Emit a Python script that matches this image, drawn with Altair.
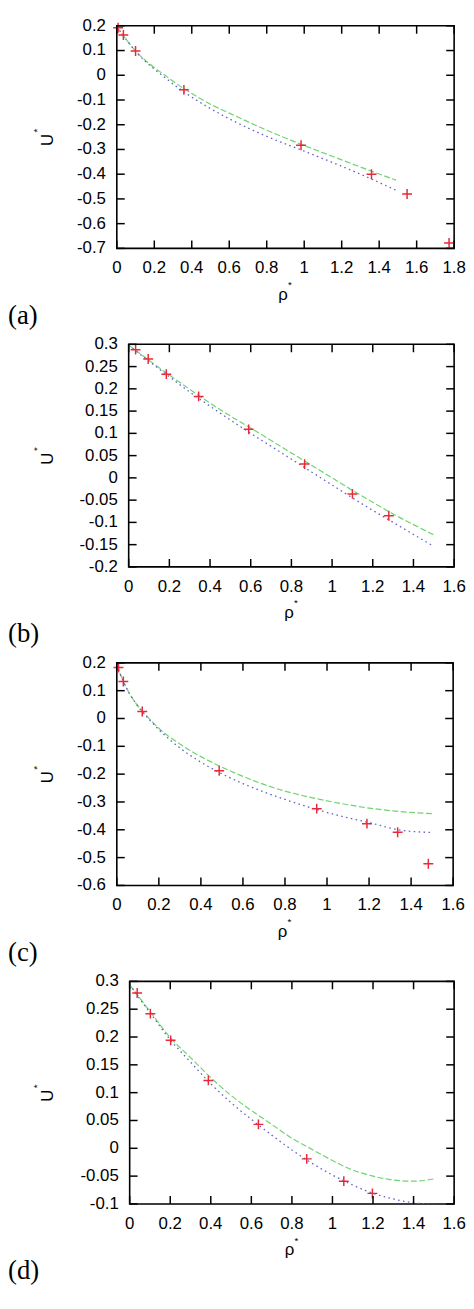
import altair as alt
import pandas as pd

# ---------------- data ----------------
# panel (a)
a_pts_x = [0.007, 0.035, 0.10, 0.358, 0.983, 1.359, 1.549, 1.773]
a_pts_y = [0.192, 0.163, 0.098, -0.059, -0.283, -0.400, -0.480, -0.678]
a_curve_x = [0, 0.02, 0.05, 0.1, 0.15, 0.2, 0.25, 0.3, 0.36, 0.5, 0.6, 0.8, 1.0, 1.2, 1.36, 1.49]
a_green = [0.197, 0.175, 0.145, 0.098, 0.062, 0.031, 0.004, -0.024, -0.055, -0.117, -0.153, -0.222, -0.284, -0.342, -0.388, -0.424]
a_blue = [0.197, 0.175, 0.145, 0.097, 0.058, 0.025, -0.005, -0.035, -0.068, -0.135, -0.176, -0.247, -0.307, -0.368, -0.420, -0.465]
a_xticks = [0, 0.2, 0.4, 0.6, 0.8, 1, 1.2, 1.4, 1.6, 1.8]
a_xlabels = ["0", "0.2", "0.4", "0.6", "0.8", "1", "1.2", "1.4", "1.6", "1.8"]
a_yticks = [0.2, 0.1, 0, -0.1, -0.2, -0.3, -0.4, -0.5, -0.6, -0.7]
a_ylabels = ["0.2", "0.1", "0", "-0.1", "-0.2", "-0.3", "-0.4", "-0.5", "-0.6", "-0.7"]

# panel (b)
b_pts_x = [0.034, 0.096, 0.185, 0.344, 0.59, 0.865, 1.10, 1.279]
b_pts_y = [0.288, 0.267, 0.233, 0.183, 0.109, 0.031, -0.036, -0.085]
b_curve_x = [0, 0.1, 0.2, 0.3, 0.4, 0.5, 0.6, 0.7, 0.8, 0.9, 1.0, 1.1, 1.2, 1.3, 1.4, 1.5]
b_green = [0.298, 0.264, 0.231, 0.199, 0.168, 0.139, 0.112, 0.084, 0.056, 0.028, 0.0, -0.028, -0.055, -0.081, -0.105, -0.128]
b_blue = [0.298, 0.262, 0.227, 0.193, 0.161, 0.130, 0.100, 0.071, 0.042, 0.013, -0.016, -0.045, -0.073, -0.100, -0.127, -0.154]
b_xticks = [0, 0.2, 0.4, 0.6, 0.8, 1, 1.2, 1.4, 1.6]
b_xlabels = ["0", "0.2", "0.4", "0.6", "0.8", "1", "1.2", "1.4", "1.6"]
b_yticks = [0.3, 0.25, 0.2, 0.15, 0.1, 0.05, 0, -0.05, -0.1, -0.15, -0.2]
b_ylabels = ["0.3", "0.25", "0.2", "0.15", "0.1", "0.05", "0", "-0.05", "-0.1", "-0.15", "-0.2"]

# panel (c)
c_pts_x = [0.008, 0.031, 0.121, 0.487, 0.951, 1.19, 1.336, 1.482]
c_pts_y = [0.183, 0.133, 0.025, -0.188, -0.324, -0.378, -0.409, -0.522]
c_curve_x = [0, 0.03, 0.06, 0.09, 0.12, 0.15, 0.2, 0.3, 0.4, 0.5, 0.6, 0.7, 0.8, 0.95, 1.1, 1.2, 1.34, 1.5]
c_green = [0.192, 0.135, 0.09, 0.055, 0.027, 0.003, -0.035, -0.092, -0.137, -0.175, -0.208, -0.237, -0.261, -0.288, -0.310, -0.322, -0.334, -0.342]
c_blue = [0.192, 0.135, 0.09, 0.055, 0.025, 0.0, -0.040, -0.106, -0.157, -0.199, -0.234, -0.264, -0.291, -0.327, -0.357, -0.374, -0.400, -0.410]
c_xticks = [0, 0.2, 0.4, 0.6, 0.8, 1, 1.2, 1.4, 1.6]
c_xlabels = ["0", "0.2", "0.4", "0.6", "0.8", "1", "1.2", "1.4", "1.6"]
c_yticks = [0.2, 0.1, 0, -0.1, -0.2, -0.3, -0.4, -0.5, -0.6]
c_ylabels = ["0.2", "0.1", "0", "-0.1", "-0.2", "-0.3", "-0.4", "-0.5", "-0.6"]

# panel (d)
d_pts_x = [0.037, 0.102, 0.202, 0.388, 0.635, 0.873, 1.056, 1.197]
d_pts_y = [0.279, 0.242, 0.194, 0.122, 0.043, -0.019, -0.059, -0.081]
d_curve_x = [0, 0.1, 0.2, 0.3, 0.4, 0.5, 0.6, 0.7, 0.8, 0.9, 1.0, 1.1, 1.2, 1.3, 1.4, 1.5]
d_green = [0.294, 0.246, 0.199, 0.163, 0.127, 0.095, 0.068, 0.043, 0.018, -0.002, -0.022, -0.039, -0.050, -0.057, -0.059, -0.055]
d_blue = [0.294, 0.244, 0.195, 0.155, 0.116, 0.082, 0.052, 0.024, -0.003, -0.027, -0.048, -0.066, -0.081, -0.091, -0.098, -0.101]
d_xticks = [0, 0.2, 0.4, 0.6, 0.8, 1, 1.2, 1.4, 1.6]
d_xlabels = ["0", "0.2", "0.4", "0.6", "0.8", "1", "1.2", "1.4", "1.6"]
d_yticks = [0.3, 0.25, 0.2, 0.15, 0.1, 0.05, 0, -0.05, -0.1]
d_ylabels = ["0.3", "0.25", "0.2", "0.15", "0.1", "0.05", "0", "-0.05", "-0.1"]

panel_labels = ["(a)", "(b)", "(c)", "(d)"]
x_title = "ρ"
y_title = "U"
star = "*"

# ---------------- styling ----------------
RED = "#e82a38"
GREEN = "#6fd46f"
BLUE = "#6464c8"
PLUS = "M-1,0L1,0M0,-1L0,1"
TICK = 8
FONT = "Liberation Sans"
ORIGIN = 118          # page x of the group origin (same for all panels)
H = 225


def panel(pts_x, pts_y, cx, green, blue, xticks, xlabels, yticks, ylabels, x0, W, label):
    xs = alt.Scale(domain=[min(xticks), max(xticks)], range=[x0, W], nice=False, zero=False)
    ys = alt.Scale(domain=[min(yticks), max(yticks)], nice=False, zero=False)
    X = lambda f: alt.X(f, scale=xs, axis=None)
    Y = lambda f: alt.Y(f, scale=ys, axis=None)

    gdf = pd.DataFrame({"x": cx, "u": green})
    bdf = pd.DataFrame({"x": cx, "u": blue})
    pdf = pd.DataFrame({"x": pts_x, "u": pts_y})
    xt = pd.DataFrame({"t": xticks, "lab": xlabels})
    yt = pd.DataFrame({"t": yticks, "lab": ylabels})
    one = pd.DataFrame({"lab": [label], "xt": [x_title], "yt": [y_title], "s": [star]})

    frame = alt.Chart(one).mark_rect(fillOpacity=0, stroke="black", strokeWidth=1.6).encode(
        x=alt.value(x0), x2=alt.value(W), y=alt.value(0), y2=alt.value(H))
    g = alt.Chart(gdf).mark_line(color=GREEN, strokeWidth=1.2, strokeDash=[6, 2.5],
                                 clip=True, interpolate="monotone").encode(x=X("x:Q"), y=Y("u:Q"))
    b = alt.Chart(bdf).mark_line(color=BLUE, strokeWidth=1.3, strokeDash=[1.6, 3.4],
                                 clip=True, interpolate="monotone").encode(x=X("x:Q"), y=Y("u:Q"))
    p = alt.Chart(pdf).mark_point(shape=PLUS, filled=False, color=RED, size=100,
                                  strokeWidth=1.5, opacity=1).encode(x=X("x:Q"), y=Y("u:Q"))
    rule = dict(color="black", strokeWidth=1.5)
    tb = alt.Chart(xt).mark_rule(**rule).encode(x=X("t:Q"), y=alt.value(H), y2=alt.value(H - TICK))
    tt = alt.Chart(xt).mark_rule(**rule).encode(x=X("t:Q"), y=alt.value(0), y2=alt.value(TICK))
    tl = alt.Chart(yt).mark_rule(**rule).encode(y=Y("t:Q"), x=alt.value(x0), x2=alt.value(x0 + TICK))
    tr = alt.Chart(yt).mark_rule(**rule).encode(y=Y("t:Q"), x=alt.value(W), x2=alt.value(W - TICK))

    txt = dict(font=FONT, fontSize=17, color="black")
    xl = alt.Chart(xt).mark_text(align="center", baseline="top", **txt).encode(
        x=X("t:Q"), y=alt.value(H + 12), text="lab:N")
    yl = alt.Chart(yt).mark_text(align="right", baseline="middle", **txt).encode(
        y=Y("t:Q"), x=alt.value(x0 - 11), text="lab:N")

    cxm = (x0 + W) / 2
    xtit = alt.Chart(one).mark_text(align="center", baseline="alphabetic", **txt).encode(
        x=alt.value(cxm - 2.5), y=alt.value(H + 52), text="xt:N")
    xstar = alt.Chart(one).mark_text(align="center", baseline="alphabetic", font=FONT,
                                     fontSize=10, color="black").encode(
        x=alt.value(cxm + 4.5), y=alt.value(H + 40), text="s:N")
    ytit = alt.Chart(one).mark_text(align="center", baseline="alphabetic", angle=270, **txt).encode(
        x=alt.value(53 - ORIGIN), y=alt.value(H / 2 + 3), text="yt:N")
    ystar = alt.Chart(one).mark_text(align="center", baseline="alphabetic", angle=270, font=FONT,
                                     fontSize=10, color="black").encode(
        x=alt.value(40 - ORIGIN), y=alt.value(H / 2 - 6.5), text="s:N")

    lab = alt.Chart(one).mark_text(font="Liberation Serif", fontSize=27, color="black",
                                   align="left", baseline="alphabetic").encode(
        text="lab:N", x=alt.value(8 - ORIGIN), y=alt.value(H + 76))
    return alt.layer(frame, g, b, p, tb, tt, tl, tr, xl, yl, xtit, xstar, ytit, ystar, lab).properties(
        width=W, height=H)


pa = panel(a_pts_x, a_pts_y, a_curve_x, a_green, a_blue, a_xticks, a_xlabels, a_yticks, a_ylabels, 0, 341, panel_labels[0])
pb = panel(b_pts_x, b_pts_y, b_curve_x, b_green, b_blue, b_xticks, b_xlabels, b_yticks, b_ylabels, 12, 341, panel_labels[1])
pc = panel(c_pts_x, c_pts_y, c_curve_x, c_green, c_blue, c_xticks, c_xlabels, c_yticks, c_ylabels, 0, 340, panel_labels[2])
pd_ = panel(d_pts_x, d_pts_y, d_curve_x, d_green, d_blue, d_xticks, d_xlabels, d_yticks, d_ylabels, 13, 341, panel_labels[3])

chart = alt.vconcat(pa, pb, pc, pd_, spacing=7).properties(
    padding={"left": 0, "top": 2, "right": 0, "bottom": 0},
    background="white",
).configure_view(strokeWidth=0)

chart.save("out.html", embed_options={"renderer": "svg", "actions": False})
